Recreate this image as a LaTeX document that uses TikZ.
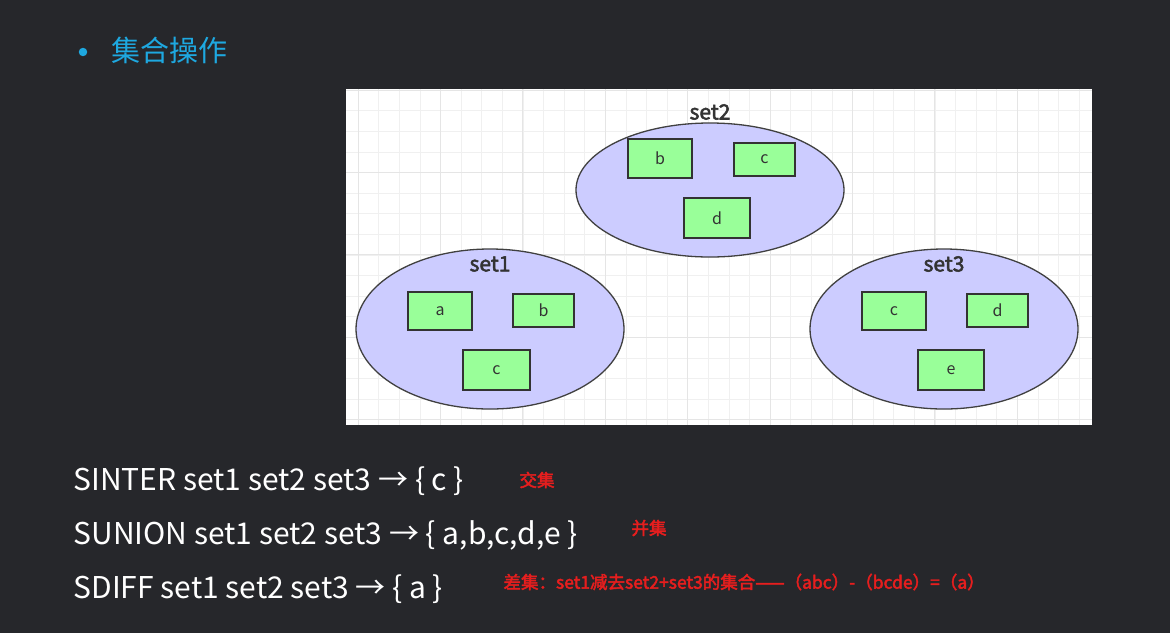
\documentclass[tikz,border=0pt]{standalone}
\usepackage{fontspec}
\usetikzlibrary{shapes.geometric}
\setmainfont{Noto Sans CJK SC}[AutoFakeBold=2.5]
\definecolor{bgc}{RGB}{38,39,43}
\definecolor{cyanc}{RGB}{30,168,224}
\definecolor{setc}{RGB}{204,204,255}
\definecolor{elc}{RGB}{153,255,153}
\definecolor{redc}{RGB}{230,30,30}
\begin{document}
\begin{tikzpicture}[x=1pt,y=-1pt,
  setell/.style={draw=black!75,line width=1.3pt,fill=setc},
  elem/.style={draw=black!80,line width=1.2pt,fill=elc,font=\fontsize{16}{18}\selectfont,text=black!80},
  setlbl/.style={font=\bfseries\fontsize{21}{24}\selectfont,text=black!80},
  cmd/.style={anchor=west,text=white,font=\fontsize{30}{34}\selectfont},
  note/.style={anchor=west,text=redc,font=\bfseries\fontsize{17.5}{20}\selectfont}]
\fill[bgc] (0,0) rectangle (1170,633);
\useasboundingbox (0,0) rectangle (1170,633);
\node[circle,fill=cyanc,inner sep=3pt] (bul) at (83,52) {};
\node[anchor=west,text=cyanc,font=\fontsize{29}{32}\selectfont] (title) at (108,50) {集合操作};
\fill[white] (346,89) rectangle (1092,425);
\begin{scope}
\clip (346,89) rectangle (1092,425);
\foreach \i in {0,...,37} \draw[black!6,line width=0.6pt] (358+20.6*\i,89) -- (358+20.6*\i,425);
\foreach \j in {0,...,17} \draw[black!6,line width=0.6pt] (346,90+20.6*\j) -- (1092,90+20.6*\j);
\foreach \i in {0,...,9} \draw[black!10,line width=0.8pt] (358+82.4*\i,89) -- (358+82.4*\i,425);
\foreach \j in {0,...,4} \draw[black!10,line width=0.8pt] (346,90+82.4*\j) -- (1092,90+82.4*\j);
\end{scope}
\node[setell,ellipse,minimum width=268,minimum height=134] (s2) at (710,190) {};
\node[setell,ellipse,minimum width=268,minimum height=160] (s1) at (490,329) {};
\node[setell,ellipse,minimum width=268,minimum height=160] (s3) at (944,329) {};
\node[setlbl] (l2) at (710,112) {set2};
\node[setlbl] (l1) at (490,264) {set1};
\node[setlbl] (l3) at (944,264) {set3};
\node[elem,minimum width=64,minimum height=39] (s2b) at (660,158.5) {b};
\node[elem,minimum width=61,minimum height=33] (s2c) at (764.5,159.5) {c};
\node[elem,minimum width=66,minimum height=40] (s2d) at (717,218) {d};
\node[elem,minimum width=64,minimum height=38] (s1a) at (440,311) {a};
\node[elem,minimum width=61,minimum height=33] (s1b) at (543.5,310.5) {b};
\node[elem,minimum width=67,minimum height=40] (s1c) at (496.5,370) {c};
\node[elem,minimum width=64,minimum height=38] (s3c) at (894,311) {c};
\node[elem,minimum width=61,minimum height=33] (s3d) at (997.5,310.5) {d};
\node[elem,minimum width=66,minimum height=40] (s3e) at (951,370) {e};
\node[cmd] (c1) at (70,481) {SINTER set1 set2 set3 → \{ c \}};
\node[cmd] (c2) at (70,535) {SUNION set1 set2 set3 → \{ a,b,c,d,e \}};
\node[cmd] (c3) at (70,589) {SDIFF set1 set2 set3 → \{ a \}};
\node[note] (n1) at (516,480) {交集};
\node[note] (n2) at (628,528) {并集};
\node[note] (n3) at (500,582) {差集：set1减去set2+set3的集合——（abc）-（bcde）=（a）};
\end{tikzpicture}
\end{document}
